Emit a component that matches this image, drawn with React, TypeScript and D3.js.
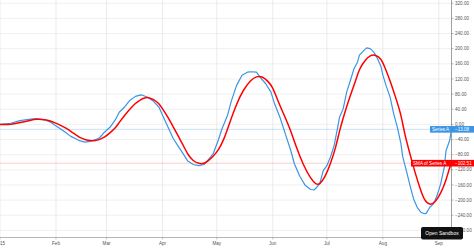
import React from "react";
import * as d3 from "d3";

const seriesDates = ["2015-01-01","2015-01-07","2015-01-12","2015-01-18","2015-01-21","2015-01-26","2015-01-29","2015-01-31","2015-02-03","2015-02-06","2015-02-09","2015-02-12","2015-02-14","2015-02-17","2015-02-20","2015-02-23","2015-02-25","2015-02-28","2015-03-03","2015-03-06","2015-03-08","2015-03-11","2015-03-14","2015-03-17","2015-03-20","2015-03-21","2015-03-24","2015-03-27","2015-03-30","2015-04-01","2015-04-04","2015-04-07","2015-04-10","2015-04-13","2015-04-15","2015-04-18","2015-04-21","2015-04-24","2015-04-26","2015-04-29","2015-05-02","2015-05-04","2015-05-07","2015-05-09","2015-05-12","2015-05-15","2015-05-18","2015-05-20","2015-05-23","2015-05-25","2015-05-28","2015-05-31","2015-06-02","2015-06-05","2015-06-08","2015-06-11","2015-06-13","2015-06-16","2015-06-19","2015-06-22","2015-06-24","2015-06-25","2015-06-27","2015-06-29","2015-07-01","2015-07-03","2015-07-05","2015-07-07","2015-07-08","2015-07-10","2015-07-12","2015-07-14","2015-07-16","2015-07-18","2015-07-19","2015-07-21","2015-07-23","2015-07-25","2015-07-27","2015-07-29","2015-07-31","2015-08-01","2015-08-03","2015-08-05","2015-08-07","2015-08-09","2015-08-11","2015-08-12","2015-08-14","2015-08-16","2015-08-18","2015-08-20","2015-08-22","2015-08-24","2015-08-25","2015-08-27","2015-08-29","2015-08-31","2015-09-02","2015-09-04","2015-09-05","2015-09-07","2015-09-08"];
const seriesA = [0,3,10,14,15,12,6,-1,-10,-20,-31,-38,-43,-47,-45,-40,-36,-20,-7,13,32,46,64,74,78,77,71,61,46,24,-7,-38,-60,-82,-97,-106,-109,-106,-95,-78,-40,-11,24,60,103,130,138,139,138,125,108,86,55,19,-25,-69,-104,-137,-161,-172,-173,-168,-157,-122,-109,-86,-56,-7,19,41,86,116,147,165,183,193,202,200,191,174,152,130,99,72,28,-7,-51,-86,-122,-161,-197,-219,-232,-236,-235,-219,-210,-188,-157,-113,-69,-42,-13.08];

const smaDates = ["2015-01-01","2015-01-07","2015-01-12","2015-01-18","2015-01-21","2015-01-26","2015-01-29","2015-01-31","2015-02-03","2015-02-06","2015-02-09","2015-02-12","2015-02-14","2015-02-17","2015-02-20","2015-02-23","2015-02-25","2015-02-28","2015-03-03","2015-03-06","2015-03-08","2015-03-11","2015-03-14","2015-03-17","2015-03-20","2015-03-22","2015-03-24","2015-03-27","2015-03-30","2015-04-01","2015-04-04","2015-04-07","2015-04-10","2015-04-13","2015-04-15","2015-04-18","2015-04-21","2015-04-24","2015-04-26","2015-04-29","2015-05-02","2015-05-05","2015-05-08","2015-05-12","2015-05-16","2015-05-20","2015-05-23","2015-05-26","2015-05-29","2015-06-01","2015-06-03","2015-06-07","2015-06-11","2015-06-14","2015-06-18","2015-06-22","2015-06-25","2015-06-27","2015-06-30","2015-07-03","2015-07-06","2015-07-08","2015-07-11","2015-07-14","2015-07-17","2015-07-19","2015-07-22","2015-07-25","2015-07-28","2015-07-31","2015-08-02","2015-08-05","2015-08-08","2015-08-11","2015-08-13","2015-08-16","2015-08-19","2015-08-22","2015-08-24","2015-08-27","2015-08-30","2015-09-02","2015-09-05","2015-09-07","2015-09-08"];
const smaA = [0,-1,5,11,14,13,9,5,-1,-8,-18,-27,-35,-40,-43,-43,-40,-34,-22,-9,5,24,41,56,66,70,72,66,56,41,19,-7,-34,-60,-80,-97,-104,-104,-97,-85,-68,-40,2,55,94,118,127,127,116,99,72,28,-16,-60,-108,-143,-159,-159,-139,-104,-60,-16,33,77,116,147,169,183,184,174,152,116,72,28,-25,-78,-131,-175,-201,-214,-206,-183,-148,-113,-102.51];

const yTicks = [-280,-240,-200,-160,-120,-80,-40,0,40,80,120,160,200,240,280,320];
const seriesLabel = "Series A";
const smaLabel = "SMA of Series A";

const W = 474, H = 248;
const plotW = 451.5, plotH = 237.5;
const BLUE = "#3a95e4";
const RED = "#ff0000";
const FONT = "'Liberation Sans', Arial, Helvetica, sans-serif";

export default function App() {
  const parse = d3.timeParse("%Y-%m-%d");
  const blue = seriesDates.map((d, i) => ({ date: parse(d) as Date, v: seriesA[i] }));
  const red = smaDates.map((d, i) => ({ date: parse(d) as Date, v: smaA[i] }));

  const x = d3.scaleTime().domain([new Date(2015, 0, 1), new Date(2015, 8, 8)]).range([0, plotW]);
  const y = d3.scaleLinear().domain([-298.8, 328.6]).range([plotH, 0]);

  const xTicks = d3.timeMonth.range(new Date(2015, 0, 1), new Date(2015, 8, 9));
  const fmtX = (d: Date) => (d.getMonth() === 0 ? d3.timeFormat("%Y")(d) : d3.timeFormat("%b")(d));
  const fmtY = d3.format(".2f");

  const lineBlue = d3.line<any>().x(d => x(d.date)).y(d => y(d.v)).curve(d3.curveLinear);
  const lineRed = d3.line<any>().x(d => x(d.date)).y(d => y(d.v)).curve(d3.curveBasis);

  const lastBlue = seriesA[seriesA.length - 1];
  const lastRed = smaA[smaA.length - 1];
  const fs = 4.6;

  return (
    <svg width={W} height={H} style={{ position: "absolute", left: 0, top: 0, background: "#fff" }} fontFamily={FONT}>
      {/* grid */}
      {yTicks.map(t => (
        <line key={"gy" + t} x1={0} x2={plotW} y1={y(t)} y2={y(t)} stroke="#ececec" strokeWidth={0.8} />
      ))}
      {xTicks.map((t, i) => (
        <line key={"gx" + i} x1={x(t)} x2={x(t)} y1={0} y2={plotH} stroke="#e6e6ee" strokeWidth={0.8} />
      ))}
      {/* price lines */}
      <line x1={0} x2={plotW} y1={y(lastBlue)} y2={y(lastBlue)} stroke={BLUE} strokeOpacity={0.35} strokeWidth={0.8} />
      <line x1={0} x2={plotW} y1={y(lastRed)} y2={y(lastRed)} stroke={RED} strokeOpacity={0.25} strokeWidth={0.8} />
      {/* series */}
      <path d={lineBlue(blue) || ""} fill="none" stroke={BLUE} strokeWidth={1.2} strokeLinejoin="round" />
      <path d={lineRed(red) || ""} fill="none" stroke={RED} strokeWidth={1.5} />
      {/* axes */}
      <line x1={0} x2={plotW} y1={plotH} y2={plotH} stroke="#b5b5b5" strokeWidth={1} />
      <line x1={plotW} x2={plotW} y1={0} y2={plotH} stroke="#888" strokeWidth={0.8} />
      {xTicks.map((t, i) => (
        <g key={"xt" + i}>
          <line x1={x(t)} x2={x(t)} y1={plotH} y2={plotH + 2} stroke="#999" strokeWidth={0.6} />
          <text x={x(t)} y={plotH + 7.2} fontSize={fs} fill="#555" textAnchor="middle">{fmtX(t)}</text>
        </g>
      ))}
      {yTicks.map(t => (
        <g key={"yt" + t}>
          <line x1={plotW} x2={plotW + 2} y1={y(t)} y2={y(t)} stroke="#888" strokeWidth={0.6} />
          <text x={plotW + 3.5} y={y(t) + 1.6} fontSize={fs} fill="#555">{fmtY(t)}</text>
        </g>
      ))}
      {/* edge labels */}
      <g>
        <rect x={430} y={y(lastBlue) - 3.3} width={W - 430} height={6.6} fill={BLUE} />
        <text x={432} y={y(lastBlue) + 1.6} fontSize={fs} fill="#fff">{seriesLabel}</text>
        <text x={plotW + 3.5} y={y(lastBlue) + 1.6} fontSize={fs} fill="#fff">{fmtY(lastBlue)}</text>
      </g>
      <g>
        <rect x={411} y={y(lastRed) - 3.3} width={W - 411} height={6.6} fill={RED} />
        <text x={413} y={y(lastRed) + 1.6} fontSize={fs} fill="#fff">{smaLabel}</text>
        <text x={plotW + 3.5} y={y(lastRed) + 1.6} fontSize={fs} fill="#fff">{fmtY(lastRed)}</text>
      </g>
      {/* sandbox button */}
      <g>
        <rect x={421} y={227} width={42} height={12.5} rx={2} fill="#111" />
        <text x={442} y={235} fontSize={5} fill="#fff" textAnchor="middle">Open Sandbox</text>
      </g>
    </svg>
  );
}
